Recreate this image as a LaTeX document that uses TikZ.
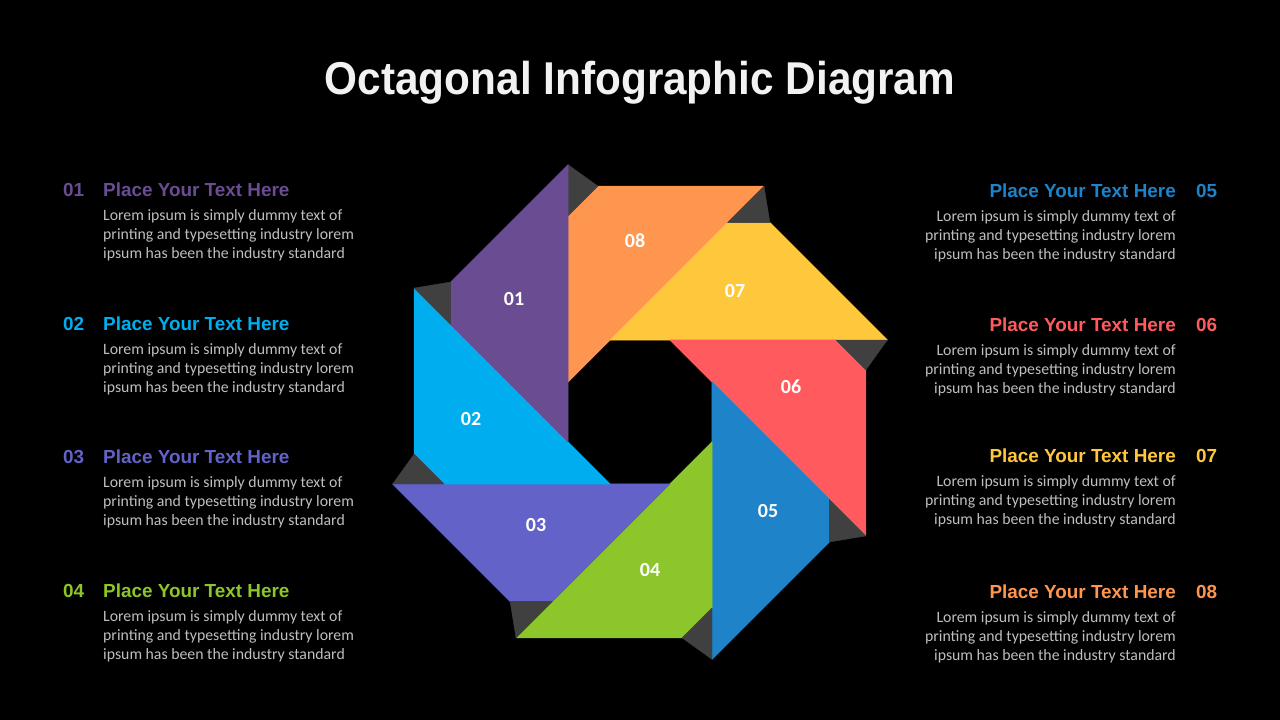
\documentclass[tikz,border=0pt]{standalone}
\usepackage{fontspec}
\usepackage{graphicx}
\setmainfont{Carlito}
\newfontfamily\headfont{Liberation Sans}
\definecolor{cA}{HTML}{6A4C93}
\definecolor{cB}{HTML}{00AEEF}
\definecolor{cC}{HTML}{6262C8}
\definecolor{cD}{HTML}{8CC62A}
\definecolor{cE}{HTML}{1E83C8}
\definecolor{cF}{HTML}{FF5A5E}
\definecolor{cG}{HTML}{FFC83C}
\definecolor{cH}{HTML}{FF9650}
\definecolor{fold}{HTML}{404040}
\definecolor{bodygray}{HTML}{BFBFBF}
\definecolor{titlewhite}{HTML}{F2F2F2}
\tikzset{
  headtxt/.style={inner sep=0pt, font=\headfont\bfseries\fontsize{18.9}{20}\selectfont},
  bodytxt/.style={inner sep=0pt, text=bodygray, font=\fontsize{15.8}{19}\selectfont},
  numtxt/.style={inner sep=0pt, text=white, font=\bfseries\fontsize{20}{22}\selectfont},
}
\begin{document}
\begin{tikzpicture}[x=1pt,y=1pt]
\fill[black] (0,0) rectangle (1280,-720);
\useasboundingbox (0,0) rectangle (1280,-720);

% title
\node[anchor=base, inner sep=0pt, text=titlewhite, font=\headfont\bfseries\fontsize{46}{50}\selectfont] (title) at (640,-94) {\scalebox{0.92}[1]{Octagonal Infographic Diagram}};

% octagon pieces
\foreach \r/\c in {0/cH,-45/cG,-90/cF,-135/cE,-180/cD,-225/cC,-270/cB,-315/cA}{
  \begin{scope}[shift={(640,-412)},rotate=\r]
    \filldraw[fill=\c, draw=\c, line width=0.6pt, line join=round] (-42,225.8) -- (124,225.8) -- (-72,29.8) -- (-72,195.8) -- cycle;
    \filldraw[fill=fold, draw=fold, line width=0.4pt, line join=round] (-42,225.8) -- (-72,247.3) -- (-72,195.8) -- cycle;
  \end{scope}
}

% numbers on pieces
\node[numtxt] (p1) at (514,-299) {01};
\node[numtxt] (p2) at (471,-419) {02};
\node[numtxt] (p3) at (536,-525) {03};
\node[numtxt] (p4) at (650,-570) {04};
\node[numtxt] (p5) at (768,-511) {05};
\node[numtxt] (p6) at (791,-387) {06};
\node[numtxt] (p7) at (735,-291) {07};
\node[numtxt] (p8) at (635,-241) {08};

% left side texts (base anchor of a 3-line node = last line baseline)
\foreach \i/\c/\y in {1/cA/196,2/cB/330,3/cC/463,4/cD/597}{
  \node[headtxt, text=\c, anchor=base west] (ln\i) at (63,-\y) {0\i};
  \node[headtxt, text=\c, anchor=base west] (lh\i) at (103,-\y) {Place Your Text Here};
  \node[bodytxt, anchor=base west, align=left] (lb\i) at (103,-\y-62) {Lorem ipsum is simply dummy text of\\printing and typesetting industry lorem\\ipsum has been the industry standard};
}

% right side texts
\foreach \i/\c/\y in {5/cE/197,6/cF/331,7/cG/462,8/cH/598}{
  \node[headtxt, text=\c, anchor=base west] (rn\i) at (1196,-\y) {0\i};
  \node[headtxt, text=\c, anchor=base east] (rh\i) at (1176,-\y) {Place Your Text Here};
  \node[bodytxt, anchor=base east, align=right] (rb\i) at (1176,-\y-62) {Lorem ipsum is simply dummy text of\\printing and typesetting industry lorem\\ipsum has been the industry standard};
}
\end{tikzpicture}
\end{document}
